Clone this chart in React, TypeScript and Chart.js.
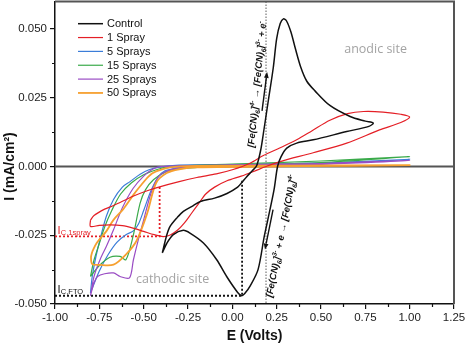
import React, { useEffect, useRef } from 'react';
import { Chart, registerables } from 'chart.js';
Chart.register(...registerables);

// ---------- data (E in volts, I in mA/cm^2) ----------
const controlE = [-0.395, -0.37, -0.351, -0.31, -0.276, -0.22, -0.18, -0.1, -0.03, 0.03, 0.055, 0.08, 0.11, 0.137, 0.16, 0.175, 0.203, 0.231, 0.25, 0.27, 0.288, 0.305, 0.33, 0.355, 0.385, 0.42, 0.466, 0.55, 0.664, 0.75, 0.795, 0.77, 0.645, 0.456, 0.363, 0.307, 0.275, 0.255, 0.235, 0.2, 0.18, 0.145, 0.1, 0.07, 0.053, 0.03, -0.032, -0.088, -0.163, -0.239, -0.277, -0.333, -0.37, -0.395];
const controlI = [-0.0314, -0.025, -0.0218, -0.0185, -0.0163, -0.0142, -0.0127, -0.0115, -0.0098, -0.0075, -0.0057, -0.0038, -0.0017, 0.0003, 0.006, 0.012, 0.024, 0.036, 0.0465, 0.052, 0.0537, 0.053, 0.049, 0.043, 0.0363, 0.031, 0.0275, 0.0222, 0.0182, 0.0165, 0.0158, 0.0146, 0.0127, 0.0097, 0.0085, 0.0067, 0.0036, 0.0, -0.0085, -0.0194, -0.0254, -0.0375, -0.0435, -0.0462, -0.047, -0.0458, -0.04, -0.0339, -0.0278, -0.0242, -0.0232, -0.0248, -0.028, -0.0314];

const spray1E = [-0.8, -0.78, -0.72, -0.67, -0.56, -0.48, -0.41, -0.3, -0.2, -0.09, 0.0, 0.1, 0.175, 0.27, 0.363, 0.45, 0.55, 0.65, 0.74, 0.85, 0.95, 1.0, 0.95, 0.83, 0.645, 0.456, 0.27, 0.19, 0.12, 0.05, -0.03, -0.1, -0.15, -0.19, -0.23, -0.27, -0.31, -0.35, -0.39, -0.44, -0.5, -0.56, -0.62, -0.69, -0.75, -0.8, -0.8];
const spray1I = [-0.0195, -0.0178, -0.0155, -0.0142, -0.0108, -0.0088, -0.0074, -0.0055, -0.004, -0.0027, -0.0012, 0.0012, 0.004, 0.0068, 0.0097, 0.013, 0.0168, 0.0192, 0.02, 0.0198, 0.019, 0.018, 0.016, 0.0133, 0.0085, 0.005, 0.0018, 0.0, -0.0018, -0.0035, -0.0052, -0.0075, -0.01, -0.0135, -0.017, -0.0205, -0.0232, -0.0249, -0.0255, -0.0248, -0.0236, -0.0224, -0.0215, -0.0212, -0.0214, -0.0218, -0.0195];

const spray5E = [-0.8, -0.79, -0.77, -0.74, -0.71, -0.67, -0.62, -0.577, -0.52, -0.47, -0.42, -0.3, 0.0, 0.3, 0.6, 1.0, 0.6, 0.2, -0.1, -0.3, -0.38, -0.42, -0.46, -0.5, -0.53, -0.56, -0.6, -0.65, -0.7, -0.75, -0.8];
const spray5I = [-0.046, -0.04, -0.033, -0.025, -0.018, -0.012, -0.0075, -0.0055, -0.0028, -0.0012, -0.0003, 0.0005, 0.0007, 0.001, 0.0015, 0.0026, 0.0012, 0.0004, 0.0, -0.0006, -0.0016, -0.004, -0.009, -0.016, -0.021, -0.0235, -0.0248, -0.0275, -0.032, -0.038, -0.046];

const spray15E = [-0.8, -0.78, -0.75, -0.72, -0.68, -0.63, -0.57, -0.5, -0.42, -0.35, 0.0, 0.5, 1.0, 0.5, 0.0, -0.3, -0.37, -0.445, -0.49, -0.52, -0.56, -0.6, -0.633, -0.69, -0.75, -0.8];
const spray15I = [-0.04, -0.034, -0.028, -0.022, -0.016, -0.01, -0.006, -0.003, -0.001, 0.0, 0.0009, 0.002, 0.0036, 0.0014, 0.0003, -0.0008, -0.0018, -0.0048, -0.0085, -0.0133, -0.0254, -0.0339, -0.0327, -0.033, -0.036, -0.04];

const spray25E = [-0.8, -0.78, -0.746, -0.71, -0.67, -0.62, -0.56, -0.5, -0.45, -0.4, 0.0, 0.5, 1.0, 0.5, 0.0, -0.3, -0.38, -0.42, -0.46, -0.5, -0.53, -0.558, -0.58, -0.633, -0.67, -0.72, -0.76, -0.78, -0.8];
const spray25I = [-0.047, -0.04, -0.0339, -0.029, -0.023, -0.015, -0.008, -0.0035, -0.001, 0.0, 0.0006, 0.0011, 0.0022, 0.0008, 0.0002, -0.0005, -0.002, -0.004, -0.01, -0.0194, -0.0266, -0.034, -0.0405, -0.04, -0.0387, -0.039, -0.04, -0.0423, -0.047];

const spray50E = [-0.79, -0.765, -0.71, -0.67, -0.615, -0.56, -0.52, -0.47, -0.43, -0.35, -0.2, 0.3, 1.0, 0.4, -0.2, -0.3, -0.37, -0.43, -0.48, -0.54, -0.6, -0.67, -0.75, -0.79, -0.797, -0.79];
const spray50I = [-0.031, -0.0278, -0.0235, -0.0194, -0.0155, -0.0105, -0.0072, -0.0035, -0.0018, -0.0003, 0.0002, 0.0003, 0.0005, 0.0001, -0.0003, -0.001, -0.0024, -0.006, -0.017, -0.027, -0.032, -0.0357, -0.0358, -0.0355, -0.033, -0.031];

const seriesLabels = ['Control', '1 Spray', '5 Sprays', '15 Sprays', '25 Sprays', '50 Sprays'];

const xTicks = [-1, -0.75, -0.5, -0.25, 0, 0.25, 0.5, 0.75, 1, 1.25];
const xTickLabels = ['-1.00', '-0.75', '-0.50', '-0.25', '0.00', '0.25', '0.50', '0.75', '1.00', '1.25'];
const xMinorTicks = [-0.875, -0.625, -0.375, -0.125, 0.125, 0.375, 0.625, 0.875, 1.125];
const yTicks = [-0.05, -0.025, 0, 0.025, 0.05];
const yTickLabels = ['-0.050', '-0.025', '0.000', '0.025', '0.050'];
const yMinorTicks = [-0.0375, -0.0125, 0.0125, 0.0375];

// reference markers (data units)
const siteLineE = 0.19;
const ftoPeakE = 0.055;
const ftoPeakI = -0.047;
const ftoLineTopI = -0.0045;
const spray1PeakE = -0.41;
const spray1PeakI = -0.0254;
const spray1LineTopI = -0.0074;

const COLORS = ['#111111', '#e41f26', '#3b7dd8', '#3aaa4a', '#9a4dc4', '#f6a030'];
const WIDTHS = [1.5, 1.2, 1.2, 1.2, 1.2, 1.8];
const ORDERS = [1, 2, 6, 5, 4, 3];

const FONT = '"Liberation Sans", Arial, sans-serif';

function zip(e: number[], i: number[]) {
  const n = Math.min(e.length, i.length);
  const out: { x: number; y: number }[] = [];
  for (let k = 0; k < n; k++) out.push({ x: e[k], y: i[k] });
  return out;
}

type Part = { t: string; size: number; dy: number };
function drawRich(ctx: CanvasRenderingContext2D, parts: Part[], x: number, y: number, angle: number, style: string, color: string) {
  ctx.save();
  ctx.translate(x, y);
  ctx.rotate(angle);
  ctx.fillStyle = color;
  ctx.textBaseline = 'alphabetic';
  ctx.textAlign = 'left';
  let cx = 0;
  for (const p of parts) {
    ctx.font = `${style} ${p.size}px ${FONT}`;
    ctx.fillText(p.t, cx, p.dy);
    cx += ctx.measureText(p.t).width;
  }
  ctx.restore();
}

function arrow(ctx: CanvasRenderingContext2D, x1: number, y1: number, x2: number, y2: number) {
  const ang = Math.atan2(y2 - y1, x2 - x1);
  const hl = 6, hw = 2.4;
  const bx = x2 - hl * Math.cos(ang), by = y2 - hl * Math.sin(ang);
  ctx.beginPath();
  ctx.moveTo(x1, y1);
  ctx.lineTo(bx, by);
  ctx.strokeStyle = '#111';
  ctx.lineWidth = 1.4;
  ctx.stroke();
  ctx.beginPath();
  ctx.moveTo(x2, y2);
  ctx.lineTo(bx + hw * Math.sin(ang), by - hw * Math.cos(ang));
  ctx.lineTo(bx - hw * Math.sin(ang), by + hw * Math.cos(ang));
  ctx.closePath();
  ctx.fillStyle = '#111';
  ctx.fill();
}

const M = 9.5, S = 6.5;
const reaction1: Part[] = [
  { t: '[Fe(CN)', size: M, dy: 0 }, { t: '6', size: S, dy: 2.5 }, { t: ']', size: M, dy: 0 }, { t: '4-', size: S, dy: -4 },
  { t: ' \u2192 [Fe(CN)', size: M, dy: 0 }, { t: '6', size: S, dy: 2.5 }, { t: ']', size: M, dy: 0 }, { t: '3-', size: S, dy: -4 },
  { t: ' + e', size: M, dy: 0 }, { t: '-', size: S, dy: -4 },
];
const reaction2: Part[] = [
  { t: '[Fe(CN)', size: M, dy: 0 }, { t: '6', size: S, dy: 2.5 }, { t: ']', size: M, dy: 0 }, { t: '3-', size: S, dy: -4 },
  { t: ' + e \u2192 [Fe(CN)', size: M, dy: 0 }, { t: '6', size: S, dy: 2.5 }, { t: ']', size: M, dy: 0 }, { t: '4-', size: S, dy: -4 },
];

const annotations = {
  id: 'cvAnnotations',
  beforeDatasetsDraw(chart: any) {
    const { ctx, chartArea: a, scales } = chart;
    const x = scales.x, y = scales.y;
    ctx.save();
    // zero line
    ctx.strokeStyle = '#555';
    ctx.lineWidth = 2;
    ctx.beginPath();
    ctx.moveTo(a.left, y.getPixelForValue(0));
    ctx.lineTo(a.right, y.getPixelForValue(0));
    ctx.stroke();
    // grey dotted separation line
    ctx.setLineDash([1.5, 1.5]);
    ctx.strokeStyle = '#9a9a9a';
    ctx.lineWidth = 1.6;
    ctx.beginPath();
    ctx.moveTo(x.getPixelForValue(siteLineE), a.top);
    ctx.lineTo(x.getPixelForValue(siteLineE), a.bottom);
    ctx.stroke();
    // black dotted (FTO)
    ctx.setLineDash([2, 2]);
    ctx.strokeStyle = '#111';
    ctx.lineWidth = 1.8;
    ctx.beginPath();
    ctx.moveTo(a.left, y.getPixelForValue(ftoPeakI));
    ctx.lineTo(x.getPixelForValue(ftoPeakE), y.getPixelForValue(ftoPeakI));
    ctx.lineTo(x.getPixelForValue(ftoPeakE), y.getPixelForValue(ftoLineTopI));
    ctx.stroke();
    // red dotted (1 spray)
    ctx.strokeStyle = COLORS[1];
    ctx.beginPath();
    ctx.moveTo(a.left, y.getPixelForValue(spray1PeakI));
    ctx.lineTo(x.getPixelForValue(spray1PeakE), y.getPixelForValue(spray1PeakI));
    ctx.lineTo(x.getPixelForValue(spray1PeakE), y.getPixelForValue(spray1LineTopI));
    ctx.stroke();
    ctx.restore();
  },
  afterDraw(chart: any) {
    const { ctx, chartArea: a, scales } = chart;
    const x = scales.x, y = scales.y;
    ctx.save();
    // frame top/right
    ctx.strokeStyle = '#555';
    ctx.lineWidth = 2;
    ctx.beginPath();
    ctx.moveTo(a.left, a.top);
    ctx.lineTo(a.right, a.top);
    ctx.lineTo(a.right, a.bottom);
    ctx.stroke();
    // minor ticks
    ctx.strokeStyle = '#111';
    ctx.lineWidth = 1.2;
    ctx.beginPath();
    for (const v of xMinorTicks) {
      const px = Math.round(x.getPixelForValue(v)) + 0.5;
      ctx.moveTo(px, a.bottom);
      ctx.lineTo(px, a.bottom + 3);
    }
    for (const v of yMinorTicks) {
      const py = Math.round(y.getPixelForValue(v)) + 0.5;
      ctx.moveTo(a.left, py);
      ctx.lineTo(a.left - 3, py);
    }
    ctx.stroke();

    // legend
    const lx = a.left + 23;
    let ly = 23.7;
    ctx.font = `11px ${FONT}`;
    ctx.textBaseline = 'middle';
    ctx.textAlign = 'left';
    seriesLabels.forEach((lab, k) => {
      ctx.strokeStyle = COLORS[k];
      ctx.lineWidth = WIDTHS[k];
      ctx.beginPath();
      ctx.moveTo(lx, ly);
      ctx.lineTo(lx + 25, ly);
      ctx.stroke();
      ctx.fillStyle = '#111';
      ctx.fillText(lab, lx + 29, ly + 0.5);
      ly += 13.85;
    });

    // subscripted current labels
    ctx.textBaseline = 'alphabetic';
    ctx.fillStyle = COLORS[1];
    ctx.font = `11px ${FONT}`;
    const r1y = y.getPixelForValue(spray1PeakI) - 2.5;
    ctx.fillText('I', a.left + 2.5, r1y);
    ctx.font = `7.5px ${FONT}`;
    ctx.fillText('C,1spray', a.left + 5.8, r1y + 1.5);
    ctx.fillStyle = '#111';
    ctx.font = `11px ${FONT}`;
    const f1y = y.getPixelForValue(ftoPeakI) - 3;
    ctx.fillText('I', a.left + 2.5, f1y);
    ctx.font = `7.5px ${FONT}`;
    ctx.fillText('C,FTO', a.left + 5.8, f1y + 1.5);

    // site labels
    ctx.fillStyle = '#a3a3a3';
    ctx.font = `12.5px "Open Sans", ${FONT}`;
    ctx.textAlign = 'center';
    ctx.textBaseline = 'middle';
    ctx.fillText('anodic site', x.getPixelForValue(0.808), y.getPixelForValue(0.0424));
    ctx.fillText('cathodic site', x.getPixelForValue(-0.337), y.getPixelForValue(-0.0411));

    // reactions (rotated)
    drawRich(ctx, reaction1, x.getPixelForValue(0.122), y.getPixelForValue(0.0068), -84.5 * Math.PI / 180, 'italic bold', '#111');
    drawRich(ctx, reaction2, x.getPixelForValue(0.224), y.getPixelForValue(-0.0477), -78.7 * Math.PI / 180, 'italic bold', '#111');
    arrow(ctx, x.getPixelForValue(0.1675), y.getPixelForValue(0.0202), x.getPixelForValue(0.196), y.getPixelForValue(0.0344));
    arrow(ctx, x.getPixelForValue(0.2296), y.getPixelForValue(-0.0157), x.getPixelForValue(0.184), y.getPixelForValue(-0.0302));

    // axis titles
    ctx.fillStyle = '#111';
    ctx.font = `bold 14px ${FONT}`;
    ctx.textAlign = 'center';
    ctx.textBaseline = 'middle';
    ctx.fillText('E (Volts)', (a.left + a.right) / 2, 336);
    ctx.save();
    ctx.translate(10, y.getPixelForValue(0));
    ctx.rotate(-Math.PI / 2);
    ctx.fillText('I (mA/cm\u00B2)', 0, 0);
    ctx.restore();
    ctx.restore();
  },
};

export default function App() {
  const ref = useRef<HTMLCanvasElement | null>(null);
  useEffect(() => {
    if (!ref.current) return;
    const series = [
      zip(controlE, controlI), zip(spray1E, spray1I), zip(spray5E, spray5I),
      zip(spray15E, spray15I), zip(spray25E, spray25I), zip(spray50E, spray50I),
    ];
    const chart = new Chart(ref.current, {
      type: 'line',
      data: {
        datasets: series.map((d, k) => ({
          label: seriesLabels[k],
          data: d,
          borderColor: COLORS[k],
          backgroundColor: COLORS[k],
          borderWidth: WIDTHS[k],
          pointRadius: 0,
          tension: 0.3,
          fill: false,
          order: ORDERS[k],
        })),
      },
      options: {
        responsive: false,
        animation: false,
        events: [],
        layout: { padding: { left: 0, top: 1.5, right: 20, bottom: 0 } },
        plugins: { legend: { display: false }, tooltip: { enabled: false }, title: { display: false } },
        scales: {
          x: {
            type: 'linear',
            min: -1,
            max: 1.25,
            afterBuildTicks: (s: any) => { s.ticks = xTicks.map((v) => ({ value: v })); },
            afterFit: (s: any) => { s.height = 50; s.paddingLeft = 0; s.paddingRight = 0; s.paddingTop = 0; s.paddingBottom = 0; },
            ticks: {
              autoSkip: false,
              maxRotation: 0,
              padding: 2,
              color: '#222',
              font: { family: FONT, size: 11.5 },
              callback: (_v: any, i: number) => xTickLabels[i],
            },
            grid: { drawOnChartArea: false, drawTicks: true, tickLength: 5, color: '#111', lineWidth: 1.2 },
            border: { display: true, color: '#111', width: 1.5 },
          },
          y: {
            type: 'linear',
            min: -0.05,
            max: 0.06,
            afterBuildTicks: (s: any) => { s.ticks = yTicks.map((v) => ({ value: v })); },
            afterFit: (s: any) => { s.width = 55; s.paddingLeft = 0; s.paddingRight = 0; s.paddingTop = 0; s.paddingBottom = 0; },
            ticks: {
              autoSkip: false,
              padding: 3,
              color: '#222',
              font: { family: FONT, size: 11.5 },
              callback: (_v: any, i: number) => yTickLabels[i],
            },
            grid: { drawOnChartArea: false, drawTicks: true, tickLength: 5, color: '#111', lineWidth: 1.2 },
            border: { display: true, color: '#111', width: 1.5 },
          },
        },
      },
      plugins: [annotations],
    } as any);
    return () => chart.destroy();
  }, []);
  return (
    <div style={{ position: 'absolute', left: 0, top: 0, width: 474, height: 354, background: '#fff' }}>
      <canvas ref={ref} width={474} height={354} style={{ display: 'block' }} />
    </div>
  );
}
